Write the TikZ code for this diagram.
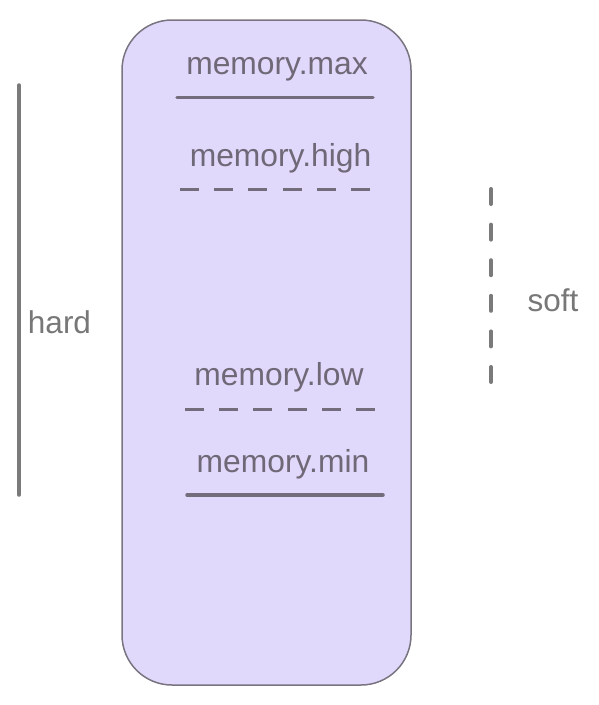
\documentclass[tikz,border=0pt]{standalone}
\usepackage{fontspec}
\setmainfont{Liberation Sans}
\definecolor{boxfill}{HTML}{E1D9FC}
\definecolor{boxline}{HTML}{7A7480}
\definecolor{memtext}{HTML}{6F6977}
\definecolor{sidetext}{HTML}{777777}
\definecolor{limline}{HTML}{736D7B}
\definecolor{sideline}{HTML}{7A7A7A}
\begin{document}
\begin{tikzpicture}[x=1pt,y=-1pt,
  memlabel/.style={text=memtext,font=\fontsize{31.8}{36}\selectfont,inner sep=0pt,anchor=base},
  sidelabel/.style={text=sidetext,font=\fontsize{31.5}{36}\selectfont,inner sep=0pt,anchor=base},
  hardlim/.style={draw=limline,line width=3.5pt,line cap=round},
  softlim/.style={draw=limline,line width=3pt,dash pattern=on 19pt off 15.2pt},
  hardside/.style={draw=sideline,line width=3.5pt,line cap=round},
  softside/.style={draw=sideline,line width=4pt,line cap=round,dash pattern=on 15pt off 20.6pt}]
\useasboundingbox (0,0) rectangle (598,705);
\draw[fill=boxfill,draw=boxline,line width=1.5pt,rounded corners=50pt] (122,20) rectangle (411,685);
\node[memlabel] (max) at (277,74) {memory.max};
\node[memlabel] (high) at (280.5,166) {memory.high};
\node[memlabel] (low) at (279,385) {memory.low};
\node[memlabel] (min) at (283,472) {memory.min};
\node[sidelabel] (hard) at (59.5,333) {hard};
\node[sidelabel] (soft) at (553,311) {soft};
\coordinate (maxL) at (177,97.5); \coordinate (maxR) at (373,97.5);
\coordinate (highL) at (180,189); \coordinate (highR) at (370,189);
\coordinate (lowL) at (185,409); \coordinate (lowR) at (375,409);
\coordinate (minL) at (187,495); \coordinate (minR) at (383,495);
\coordinate (hardT) at (19,85); \coordinate (hardB) at (19,495);
\coordinate (softT) at (491,189); \coordinate (softB) at (491,385);
\draw[hardlim] (maxL) -- (maxR);
\draw[softlim] (highL) -- (highR);
\draw[softlim] (lowL) -- (lowR);
\draw[hardlim] (minL) -- (minR);
\draw[hardside] (hardT) -- (hardB);
\draw[softside] (softT) -- (softB);
\end{tikzpicture}
\end{document}
